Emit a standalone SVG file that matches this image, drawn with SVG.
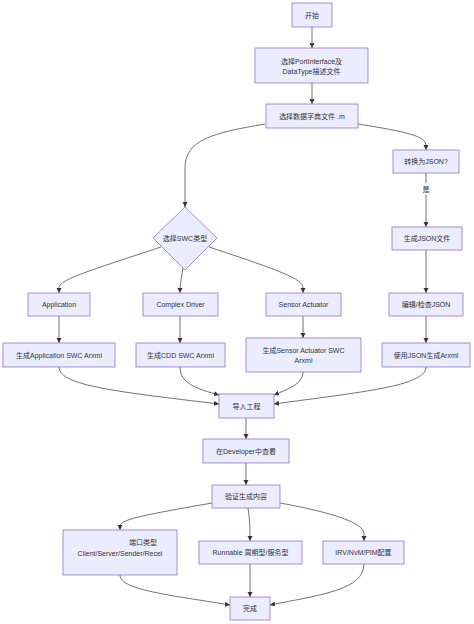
<svg xmlns="http://www.w3.org/2000/svg" width="474" height="624" viewBox="0 0 474 624">
<style>
.n rect,.n polygon{fill:#ECECFF;stroke:#9370DB;stroke-width:0.8}
.n text,.lbl{font-family:"Liberation Sans","Noto Sans CJK SC",sans-serif;font-size:7px;fill:#333;text-anchor:middle;dominant-baseline:central}
.e path{fill:none;stroke:#333;stroke-width:0.7;marker-end:url(#ah)}
</style>
<defs>
<marker id="ah" markerUnits="userSpaceOnUse" markerWidth="6" markerHeight="6" refX="5" refY="2.5" orient="auto">
<path d="M0,0 L5,2.5 L0,5 z" fill="#333"/>
</marker>
</defs>
<rect width="474" height="624" fill="#fff"/>
<g class="e">
<path d="M312,27 L312,48"/>
<path d="M312,83 L312,104"/>
<path d="M265,124 C212,133 185,140 185,168 L185,207"/>
<path d="M358,124 C408,132 426,136 426,146 L426,150"/>
<path d="M426,173 L426,227"/>
<path d="M426,250 L426,293"/>
<path d="M426,316 L426,343"/>
<path d="M161,247 C82,273 59,280 59,288 L59,293"/>
<path d="M183,268 C181,280 180,285 180,293"/>
<path d="M209,247 C288,273 303,280 303,288 L303,293"/>
<path d="M59,316 L59,343"/>
<path d="M180,316 L180,343"/>
<path d="M303,316 L303,338"/>
<path d="M59,367 C59,386 120,392 219,404"/>
<path d="M180,367 C180,384 198,389 219,395"/>
<path d="M303,372 C303,384 288,389 274,395"/>
<path d="M426,367 C426,386 362,392 274,404"/>
<path d="M246,418 L246,439"/>
<path d="M246,463 L246,485"/>
<path d="M212,503 C150,514 120,519 120,526 L120,530"/>
<path d="M248,508 C250,520 250,530 250,541"/>
<path d="M280,503 C340,514 364,524 364,534 L364,541"/>
<path d="M120,575 C120,590 170,595 230,605"/>
<path d="M250,564 L250,597"/>
<path d="M364,564 C364,590 320,595 270,605"/>
</g>
<g id="edge-label-yes"><rect x="421" y="183" width="10" height="12" fill="#f8f8f8"/><text class="lbl" x="426" y="189">是</text></g>
<g class="n" id="start"><rect x="292" y="3" width="40" height="24"/><text x="312" y="15">开始</text></g>
<g class="n" id="portif"><rect x="255" y="48" width="113" height="35"/><text x="311.5" y="61">选择PortInterface及</text><text x="311.5" y="71">DataType描述文件</text></g>
<g class="n" id="dict"><rect x="266" y="104" width="92" height="24"/><text x="312" y="116">选择数据字典文件 .m</text></g>
<g class="n" id="tojson"><rect x="393" y="150" width="66" height="23"/><text x="426" y="161.5">转换为JSON?</text></g>
<g class="n" id="genjson"><rect x="392" y="227" width="70" height="23"/><text x="427" y="238.5">生成JSON文件</text></g>
<g class="n" id="swctype"><polygon points="185,207 217,238 185,270 153,238"/><text x="185" y="238">选择SWC类型</text></g>
<g class="n" id="app"><rect x="28" y="293" width="62" height="23"/><text x="59" y="304.5">Application</text></g>
<g class="n" id="cdd"><rect x="143" y="293" width="75" height="23"/><text x="180.5" y="304.5">Complex Driver</text></g>
<g class="n" id="sensor"><rect x="266" y="293" width="75" height="23"/><text x="303.5" y="304.5">Sensor Actuator</text></g>
<g class="n" id="editjson"><rect x="389" y="293" width="74" height="23"/><text x="426" y="304.5">编辑/检查JSON</text></g>
<g class="n" id="genapp"><rect x="3" y="343" width="112" height="24"/><text x="59" y="355">生成Application SWC Arxml</text></g>
<g class="n" id="gencdd"><rect x="136" y="343" width="89" height="24"/><text x="180.5" y="355">生成CDD SWC Arxml</text></g>
<g class="n" id="gensensor"><rect x="246" y="338" width="115" height="34"/><text x="303.5" y="350.5">生成Sensor Actuator SWC</text><text x="303.5" y="360">Arxml</text></g>
<g class="n" id="usejson"><rect x="382" y="343" width="88" height="24"/><text x="426" y="355">使用JSON生成Arxml</text></g>
<g class="n" id="import"><rect x="219" y="394" width="55" height="24"/><text x="246.5" y="406">导入工程</text></g>
<g class="n" id="dev"><rect x="203" y="439" width="86" height="24"/><text x="246" y="451">在Developer中查看</text></g>
<g class="n" id="verify"><rect x="212" y="485" width="68" height="23"/><text x="246" y="496.5">验证生成内容</text></g>
<g class="n" id="port"><rect x="63" y="530" width="114" height="45"/><text x="143" y="542">端口类型</text><text x="120" y="553">Client/Server/Sender/Recei</text></g>
<g class="n" id="runnable"><rect x="199" y="541" width="103" height="23"/><text x="250.5" y="552.5">Runnable 周期型/服务型</text></g>
<g class="n" id="irv"><rect x="323" y="541" width="81" height="23"/><text x="363.5" y="552.5">IRV/NvM/PIM配置</text></g>
<g class="n" id="done"><rect x="230" y="597" width="40" height="23"/><text x="250" y="608.5">完成</text></g>
</svg>
